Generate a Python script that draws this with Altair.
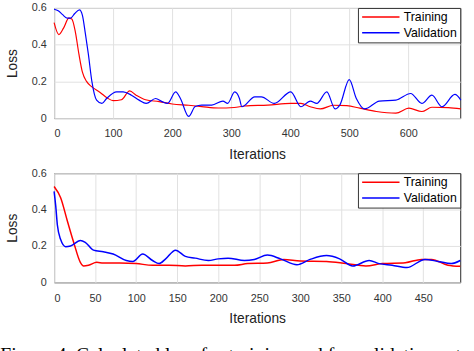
import altair as alt
import pandas as pd

# ---- top panel data ----
top_train_x = [0, 8, 16, 25, 30, 36, 42, 48, 55, 64, 78, 90, 100, 114, 128, 139, 155, 178, 200, 228, 250, 278,
               305, 323, 362, 401, 418, 434, 451, 473, 496, 518, 546, 579, 601, 623, 640, 668, 689]
top_train_y = [0.52, 0.455, 0.49, 0.545, 0.54, 0.47, 0.35, 0.25, 0.2, 0.17, 0.14, 0.11, 0.095, 0.1, 0.148, 0.125,
               0.10, 0.09, 0.077, 0.07, 0.063, 0.055, 0.058, 0.066, 0.071, 0.08, 0.08, 0.062, 0.05, 0.07, 0.068,
               0.054, 0.036, 0.027, 0.054, 0.036, 0.059, 0.057, 0.05]
top_val_x = [0, 7, 14, 22, 28, 35, 43, 48, 53, 58, 64, 72, 81, 89, 106, 117, 131, 144, 156, 172, 183, 192, 206,
             214, 228, 239, 250, 267, 286, 294, 306, 314, 318, 340, 351, 373, 401, 418, 434, 445, 462, 476, 484,
             500, 512, 526, 551, 579, 604, 623, 640, 657, 679, 689]
top_val_y = [0.593, 0.585, 0.565, 0.545, 0.545, 0.57, 0.59, 0.56, 0.46, 0.35, 0.2, 0.098, 0.08, 0.107, 0.143,
             0.143, 0.125, 0.098, 0.08, 0.107, 0.09, 0.08, 0.143, 0.107, 0.009, 0.063, 0.071, 0.071, 0.093, 0.08,
             0.143, 0.107, 0.062, 0.116, 0.116, 0.08, 0.143, 0.062, 0.093, 0.08, 0.143, 0.05, 0.071, 0.21, 0.107,
             0.05, 0.093, 0.098, 0.134, 0.08, 0.125, 0.062, 0.129, 0.098]

# ---- bottom panel data ----
bot_train_x = [0, 8, 16, 24, 32, 36, 42, 52, 60, 80, 100, 120, 140, 160, 180, 200, 220, 236, 260, 280, 300, 332,
               356, 380, 400, 428, 448, 460, 480, 495]
bot_train_y = [0.527, 0.465, 0.34, 0.218, 0.11, 0.09, 0.094, 0.11, 0.106, 0.106, 0.103, 0.094, 0.094, 0.09, 0.094,
               0.094, 0.094, 0.103, 0.106, 0.126, 0.117, 0.115, 0.103, 0.09, 0.103, 0.108, 0.126, 0.126, 0.094,
               0.088]
bot_val_x = [0, 2, 4, 8, 14, 20, 32, 38, 48, 60, 72, 88, 96, 108, 120, 128, 136, 148, 160, 172, 188, 200, 212,
             232, 244, 260, 276, 296, 312, 332, 348, 364, 384, 396, 412, 430, 452, 468, 484, 495]
bot_val_y = [0.5, 0.42, 0.315, 0.235, 0.196, 0.2, 0.23, 0.22, 0.177, 0.168, 0.156, 0.12, 0.115, 0.156, 0.12, 0.103,
             0.129, 0.177, 0.143, 0.133, 0.12, 0.129, 0.133, 0.12, 0.126, 0.15, 0.129, 0.097, 0.126, 0.147, 0.129,
             0.09, 0.12, 0.103, 0.094, 0.081, 0.126, 0.115, 0.103, 0.12]

series_names = ["Training", "Validation"]
series_colors = ["#ff0000", "#0000ff"]
y_ticks = [0, 0.2, 0.4, 0.6]
top_x_ticks = [0, 100, 200, 300, 400, 500, 600]
bot_x_ticks = [0, 50, 100, 150, 200, 250, 300, 350, 400, 450]
caption = "Figure 4. Calculated loss for training and for validation sets"

FONT = "Liberation Sans"


def make_df(tx, ty, vx, vy):
    a = pd.DataFrame({"iter": tx, "loss": ty, "series": series_names[0]})
    b = pd.DataFrame({"iter": vx, "loss": vy, "series": series_names[1]})
    return pd.concat([a, b], ignore_index=True)


def panel(df, xmax, xticks, height, sw):
    return alt.Chart(df).mark_line(interpolate="monotone", strokeWidth=sw).encode(
        x=alt.X("iter:Q", scale=alt.Scale(domain=[0, xmax], nice=False, zero=False),
                axis=alt.Axis(values=xticks, title="Iterations", labelPadding=10, titlePadding=9)),
        y=alt.Y("loss:Q", scale=alt.Scale(domain=[0, 0.6], nice=False),
                axis=alt.Axis(values=y_ticks, format="~g", title="Loss", labelPadding=8, titlePadding=12)),
        color=alt.Color("series:N",
                        scale=alt.Scale(domain=series_names, range=series_colors),
                        legend=alt.Legend(title=None, orient="top-right", offset=0)),
    ).properties(width=413, height=height)


top = panel(make_df(top_train_x, top_train_y, top_val_x, top_val_y), 688, top_x_ticks, 112, 1.2)
bot = panel(make_df(bot_train_x, bot_train_y, bot_val_x, bot_val_y), 495, bot_x_ticks, 111, 1.5)

chart = alt.vconcat(top, bot, spacing=56, bounds="flush").resolve_scale(
    color="independent", x="independent"
).resolve_legend(color="independent").properties(
    title=alt.TitleParams(text=caption, orient="bottom", anchor="start", frame="bounds",
                          font="Liberation Serif", fontSize=20, fontWeight="normal", color="black",
                          offset=19, dx=-5),
    padding={"left": 0, "top": -2, "right": 5, "bottom": 0},
    background="white",
).configure_view(stroke="#262626", strokeWidth=1).configure_axis(
    labelFont=FONT, labelFontSize=11, labelColor="#333333",
    titleFont=FONT, titleFontSize=14, titleFontWeight="normal", titleColor="#222222",
    gridColor="#e0e0e0", gridWidth=1, domain=False, ticks=False,
).configure_legend(
    symbolType="M-1,0H6.6", symbolSize=100, symbolStrokeWidth=1.5,
    labelFont=FONT, labelFontSize=12.5, labelColor="black",
    strokeColor="#333333", fillColor="white", padding=3, rowPadding=3, labelOffset=31,
    cornerRadius=0,
)

chart.save("out.html", embed_options={"renderer": "svg", "actions": False})
